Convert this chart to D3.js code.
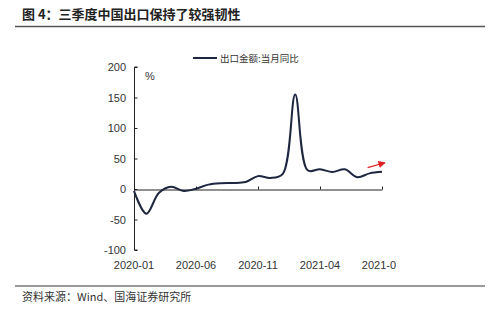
<!DOCTYPE html>
<html><head><meta charset="utf-8">
<script src="https://cdn.jsdelivr.net/npm/d3@7"></script>
<style>body{margin:0;background:#fff;}svg{display:block;}</style>
</head><body>
<svg id="c" width="500" height="315"></svg>
<script>
const months = ["2020-01","2020-02","2020-03","2020-04","2020-05","2020-06","2020-07","2020-08","2020-09","2020-10","2020-11","2020-12","2021-01","2021-02","2021-03","2021-04","2021-05","2021-06","2021-07","2021-08","2021-09"];
const exportYoY = [-3, -40.6, -6.6, 3.5, -3.3, 0.5, 7.2, 9.5, 9.9, 11.4, 21.1, 18.1, 24.9, 154.9, 30.6, 32.3, 27.9, 32.2, 19.3, 25.6, 28.1];
const xTickLabels = ["2020-01","2020-06","2020-11","2021-04","2021-09"];
const yTicks = [-100, -50, 0, 50, 100, 150, 200];
const seriesName = "出口金额:当月同比";
const title = "图 4：三季度中国出口保持了较强韧性";
const source = "资料来源：Wind、国海证券研究所";

const svg = d3.select("#c");
const font = "'Noto Sans CJK SC', 'Liberation Sans', Arial, sans-serif";
const axisFont = "'Liberation Sans', Arial, sans-serif";

const x = d3.scalePoint().domain(months).range([134, 382]);
const y = d3.scaleLinear().domain([-100, 200]).range([250, 67]);

// title
svg.append("text").attr("x", 22).attr("y", 19).attr("font-family", font)
  .attr("font-size", 13).attr("font-weight", "bold").attr("fill", "#222").text(title);
svg.append("line").attr("x1", 15).attr("x2", 485).attr("y1", 26.5).attr("y2", 26.5)
  .attr("stroke", "#555").attr("stroke-width", 1.5);

// bottom rule and source
svg.append("line").attr("x1", 15).attr("x2", 485).attr("y1", 286).attr("y2", 286)
  .attr("stroke", "#777").attr("stroke-width", 1.5);
svg.append("text").attr("x", 22).attr("y", 301).attr("font-family", font)
  .attr("font-size", 11).attr("fill", "#333").text(source);

// y axis
const yAxis = d3.axisRight(y).tickValues(yTicks).tickSize(3).tickFormat("");
const ya = svg.append("g").attr("transform", "translate(134.5,0)").call(yAxis);
ya.select(".domain").attr("stroke", "#222").attr("d", `M3,${y(200)}H0V${y(-100)}H3`);
ya.selectAll(".tick line").attr("stroke", "#222");
svg.append("g").selectAll("text").data(yTicks).join("text")
  .attr("x", 126).attr("y", d => y(d) + 4).attr("text-anchor", "end")
  .attr("font-family", axisFont).attr("font-size", 11).attr("fill", "#333").text(d => d);
svg.append("text").attr("x", 145).attr("y", 80).attr("font-family", axisFont)
  .attr("font-size", 11).attr("fill", "#333").text("%");

// x axis at zero
const xAxis = d3.axisTop(x).tickValues(xTickLabels).tickSize(3).tickFormat("").tickSizeOuter(0);
const xa = svg.append("g").attr("transform", `translate(0,${y(0) + 0.5})`).call(xAxis);
xa.select(".domain").attr("stroke", "#222");
xa.selectAll(".tick line").attr("stroke", "#222");

svg.append("defs").append("clipPath").attr("id", "lblclip")
  .append("rect").attr("x", 0).attr("y", 0).attr("width", 396).attr("height", 315);
svg.append("g").attr("clip-path", "url(#lblclip)").selectAll("text").data(xTickLabels).join("text")
  .attr("x", d => x(d)).attr("y", 269).attr("text-anchor", "middle")
  .attr("font-family", axisFont).attr("font-size", 11).attr("fill", "#333").text(d => d);

// line
const line = d3.line().x((d, i) => x(months[i])).y(d => y(d)).curve(d3.curveCatmullRom.alpha(0.5));
svg.append("path").datum(exportYoY).attr("d", line).attr("fill", "none")
  .attr("stroke", "#1e2640").attr("stroke-width", 2);

// legend
svg.append("line").attr("x1", 193).attr("x2", 217).attr("y1", 58).attr("y2", 58)
  .attr("stroke", "#1e2640").attr("stroke-width", 2);
svg.append("text").attr("x", 220).attr("y", 61.5).attr("font-family", font)
  .attr("font-size", 9.5).attr("fill", "#333").text(seriesName);

// red arrow
const defs = svg.select("defs");
defs.append("marker").attr("id", "ah").attr("viewBox", "0 0 10 10").attr("refX", 9).attr("refY", 5)
  .attr("markerWidth", 6).attr("markerHeight", 6).attr("orient", "auto")
  .append("path").attr("d", "M0,0L10,5L0,10z").attr("fill", "#e02020");
svg.append("line").attr("x1", x("2021-08") - 2).attr("y1", y(35)).attr("x2", x("2021-09") + 3).attr("y2", y(43))
  .attr("stroke", "#e02020").attr("stroke-width", 1.2).attr("marker-end", "url(#ah)");
</script>
</body></html>
